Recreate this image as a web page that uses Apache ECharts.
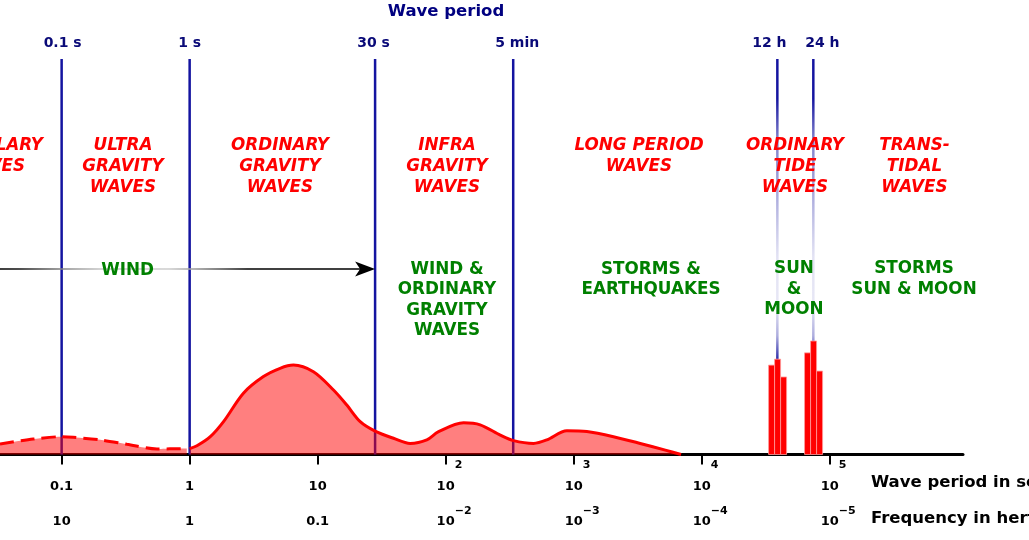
<!DOCTYPE html>
<html><head><meta charset="utf-8">
<script src="https://cdn.jsdelivr.net/npm/echarts@6/dist/echarts.min.js"></script>
<style>html,body{margin:0;padding:0;background:#fff}#c{width:1029px;height:540px}</style>
</head><body><div id="c"></div>
<script>
// ---------- data ----------
const axisMinPeriod = 0.033;
const axisMaxPeriod = 1.1e6;
const energyMax = 100;

const periodTicks   = [0.1, 1, 10, 100, 1000, 10000, 100000];
const periodTickBase = ['0.1', '1', '10', '10', '10', '10', '10'];
const periodTickExp  = ['', '', '', '2', '3', '4', '5'];
const freqTickBase   = ['10', '1', '0.1', '10', '10', '10', '10'];
const freqTickExp    = ['', '', '', '\u22122', '\u22123', '\u22124', '\u22125'];

// capillary waves (dashed part of the spectrum)
const capillaryPeriod = [0.033, 0.06, 0.1, 0.123, 0.2, 0.324, 0.556, 0.95];
const capillaryEnergy = [2.65, 3.9, 4.5, 4.35, 3.7, 2.6, 1.4, 1.5];

// gravity / infragravity / long period waves (solid part)
const gravityPeriod = [1, 1.14, 1.45, 1.84, 2.63, 3.77, 5.09, 6.47, 9.27, 13.3, 16.9, 21.5, 28.1, 39.1, 52.8, 71.3, 87.3, 138, 186, 267, 339, 486, 618, 885, 1268, 2046, 3311, 5200, 6900];
const gravityEnergy = [1.5, 2.2, 4.5, 8.3, 15.5, 19.7, 21.8, 22.6, 20.9, 16.3, 12.5, 8.3, 5.9, 4.1, 2.8, 3.7, 5.7, 8.0, 7.5, 4.9, 3.5, 2.8, 3.7, 6.0, 5.8, 4.5, 2.8, 1.1, 0];

// tidal lines
const tidePeriod = [35160, 39170, 43650, 67140, 74820, 83370];
const tideEnergy = [22.6, 24.1, 19.6, 25.7, 28.7, 21.1];

// period marker lines
const periodLineValues = [0.1, 1, 28.1, 337, 39000, 74500];
const periodLineLabels = ['0.1 s', '1 s', '30 s', '5 min', '12 h', '24 h'];

// wind arrow
const windArrowFrom = 0.033;
const windArrowTo = 28.1;
const windArrowLevel = 46.9;

// ---------- styling ----------
const FONT = '"DejaVu Sans", Verdana, sans-serif';
const NAVY = '#0a0a78';
const LINE_BLUE = '#1414a0';
const RED = '#ff0000';
const GREEN = '#008000';
const periodLabelDx = [1, 0, -1.5, 4, -8, 9];

function tickIndex(value) {
  const lv = Math.log10(value);
  return periodTicks.findIndex(t => Math.abs(Math.log10(t) - lv) < 0.01);
}
function richLabel(base, exp) {
  return exp ? '{p|' + exp + '}{b|' + base + '}{e|' + exp + '}' : '{b|' + base + '}';
}
function richStyles(pad) {
  return {
    b: {fontSize: 13, fontWeight: 'bold', fontFamily: FONT, color: '#000', padding: [pad, 0, 0, 0], verticalAlign: 'top'},
    e: {fontSize: 11, fontWeight: 'bold', fontFamily: FONT, color: '#000', verticalAlign: 'top'},
    p: {fontSize: 11, fontWeight: 'bold', fontFamily: FONT, color: 'rgba(0,0,0,0)', verticalAlign: 'top'}
  };
}

function renderPeriodLine(params, api) {
  const i = params.dataIndex;
  const v = api.value(0);
  const top = api.coord([v, energyMax]);
  const bot = api.coord([v, 0]);
  let stroke = LINE_BLUE;
  if (i >= 4) {
    stroke = new echarts.graphic.LinearGradient(0, top[1], 0, bot[1], [
      {offset: 0, color: 'rgba(20,20,160,1)'},
      {offset: 0.1, color: 'rgba(20,20,160,1)'},
      {offset: 0.2, color: 'rgba(20,20,160,0.55)'},
      {offset: 0.35, color: 'rgba(20,20,160,0.35)'},
      {offset: 0.5, color: 'rgba(20,20,160,0.12)'},
      {offset: 0.62, color: 'rgba(20,20,160,0.1)'},
      {offset: 0.7, color: 'rgba(20,20,160,0.35)'},
      {offset: 0.76, color: 'rgba(20,20,160,0.9)'},
      {offset: 1, color: 'rgba(20,20,160,1)'}
    ], true);
  }
  return {
    type: 'group',
    children: [
      {type: 'line', shape: {x1: top[0], y1: top[1], x2: bot[0], y2: bot[1]}, style: {stroke: stroke, lineWidth: 2.5}},
      {type: 'text', x: top[0] + periodLabelDx[i], y: top[1] - 15.5,
        style: {text: periodLineLabels[i], fill: NAVY, fontSize: 14, fontWeight: 'bold', fontFamily: FONT, align: 'center', verticalAlign: 'middle'}}
    ]
  };
}

function renderArrow(params, api) {
  const p1 = api.coord([api.value(0), api.value(1)]);
  const p2 = api.coord([api.value(2), api.value(1)]);
  const y = p1[1];
  const tip = p2[0];
  const grad = new echarts.graphic.LinearGradient(p1[0], 0, tip, 0, [
    {offset: 0, color: '#000'},
    {offset: 0.05, color: '#111'},
    {offset: 0.17, color: '#888'},
    {offset: 0.28, color: '#ccc'},
    {offset: 0.45, color: '#ccc'},
    {offset: 0.52, color: '#999'},
    {offset: 0.6, color: '#444'},
    {offset: 0.66, color: '#000'},
    {offset: 1, color: '#000'}
  ], true);
  return {
    type: 'group',
    children: [
      {type: 'line', shape: {x1: p1[0], y1: y, x2: tip - 14, y2: y}, style: {stroke: grad, lineWidth: 1.6}},
      {type: 'polygon', shape: {points: [[tip, y], [tip - 20, y - 7.5], [tip - 15, y], [tip - 20, y + 7.5]]}, style: {fill: '#000'}}
    ]
  };
}

function renderTideBar(params, api) {
  const x = api.value(0);
  const c = api.coord([x, api.value(1)]);
  const b = api.coord([x, 0]);
  return {type: 'rect', shape: {x: c[0] - 3, y: c[1], width: 6, height: b[1] - c[1]},
    style: {fill: RED, stroke: '#ff9a9a', lineWidth: 0.8}};
}

// ---------- annotation texts ----------
function redText(x, text) {
  return {type: 'text', x: x, y: 135.5, z: 10,
    style: {text: text, fill: RED, fontSize: 16.8, fontWeight: 'bold', fontStyle: 'italic', fontFamily: FONT,
      align: 'center', verticalAlign: 'top', lineHeight: 21}};
}
function greenText(x, text, top) {
  return {type: 'text', x: x, y: top, z: 10,
    style: {text: text, fill: GREEN, fontSize: 16.8, fontWeight: 'bold', fontFamily: FONT,
      align: 'center', verticalAlign: 'top', lineHeight: 20.6}};
}
const graphics = [
  {type: 'text', x: 446, y: 12, style: {text: 'Wave period', fill: '#000080', fontSize: 16.5, fontWeight: 'bold', fontFamily: FONT, align: 'center', verticalAlign: 'middle'}},
  {type: 'text', x: 871, y: 483, style: {text: 'Wave period in seconds', fill: '#000', fontSize: 16.5, fontWeight: 'bold', fontFamily: FONT, align: 'left', verticalAlign: 'middle'}},
  {type: 'text', x: 871, y: 519, style: {text: 'Frequency in hertz', fill: '#000', fontSize: 16.5, fontWeight: 'bold', fontFamily: FONT, align: 'left', verticalAlign: 'middle'}},
  redText(-8, 'CAPILLARY\nWAVES'),
  redText(123, 'ULTRA\nGRAVITY\nWAVES'),
  redText(280, 'ORDINARY\nGRAVITY\nWAVES'),
  redText(447, 'INFRA\nGRAVITY\nWAVES'),
  redText(639, 'LONG PERIOD\nWAVES'),
  redText(795, 'ORDINARY\nTIDE\nWAVES'),
  redText(914.5, 'TRANS-\nTIDAL\nWAVES'),
  greenText(127.5, 'WIND', 260),
  greenText(447, 'WIND &\nORDINARY\nGRAVITY\nWAVES', 259),
  greenText(651, 'STORMS &\nEARTHQUAKES', 259),
  greenText(794, 'SUN\n&\nMOON', 258.5),
  greenText(914, 'STORMS\nSUN & MOON', 258.5)
];

// ---------- chart ----------
const chart = echarts.init(document.getElementById('c'), null, {renderer: 'canvas'});
chart.setOption({
  animation: false,
  backgroundColor: '#fff',
  grid: {left: 0, right: 66, top: 59, bottom: 85.5, containLabel: false, outerBoundsMode: 'none'},
  xAxis: [
    {
      type: 'log', logBase: 10, min: axisMinPeriod, max: axisMaxPeriod, position: 'bottom',
      axisLine: {show: true, lineStyle: {color: '#000', width: 3}},
      axisTick: {show: true, customValues: periodTicks, length: 10, lineStyle: {color: '#000', width: 2}},
      splitLine: {show: false}, minorTick: {show: false},
      axisLabel: {
        customValues: periodTicks, margin: 5.5, hideOverlap: false,
        formatter: function (v) { const i = tickIndex(v); return i < 0 ? '' : richLabel(periodTickBase[i], periodTickExp[i]); },
        rich: richStyles(20)
      }
    },
    {
      type: 'log', logBase: 10, min: axisMinPeriod, max: axisMaxPeriod, position: 'bottom', offset: 0,
      axisLine: {show: false}, axisTick: {show: false}, splitLine: {show: false},
      axisLabel: {
        customValues: periodTicks, margin: 51, hideOverlap: false,
        formatter: function (v) { const i = tickIndex(v); return i < 0 ? '' : richLabel(freqTickBase[i], freqTickExp[i]); },
        rich: richStyles(10)
      }
    }
  ],
  yAxis: {type: 'value', min: 0, max: energyMax, show: false},
  graphic: graphics,
  series: [
    {
      type: 'custom', name: 'period lines', clip: false, z: 1, silent: true,
      renderItem: renderPeriodLine,
      data: periodLineValues.map(v => [v, 0])
    },
    {
      type: 'custom', name: 'wind arrow', clip: false, z: 2, silent: true,
      renderItem: renderArrow,
      data: [[windArrowFrom, windArrowLevel, windArrowTo]]
    },
    {
      type: 'line', name: 'capillary', z: 3, smooth: 0.3, symbol: 'none',
      lineStyle: {color: RED, width: 3, type: [14, 7]},
      areaStyle: {color: RED, opacity: 0.5},
      data: capillaryPeriod.map((p, i) => [p, capillaryEnergy[i]])
    },
    {
      type: 'line', name: 'gravity', z: 3, smooth: 0.3, symbol: 'none',
      lineStyle: {color: RED, width: 3},
      areaStyle: {color: RED, opacity: 0.5},
      data: gravityPeriod.map((p, i) => [p, gravityEnergy[i]])
    },
    {
      type: 'custom', name: 'tides', clip: false, z: 4,
      renderItem: renderTideBar,
      data: tidePeriod.map((p, i) => [p, tideEnergy[i]])
    }
  ]
});
</script>
</body></html>
